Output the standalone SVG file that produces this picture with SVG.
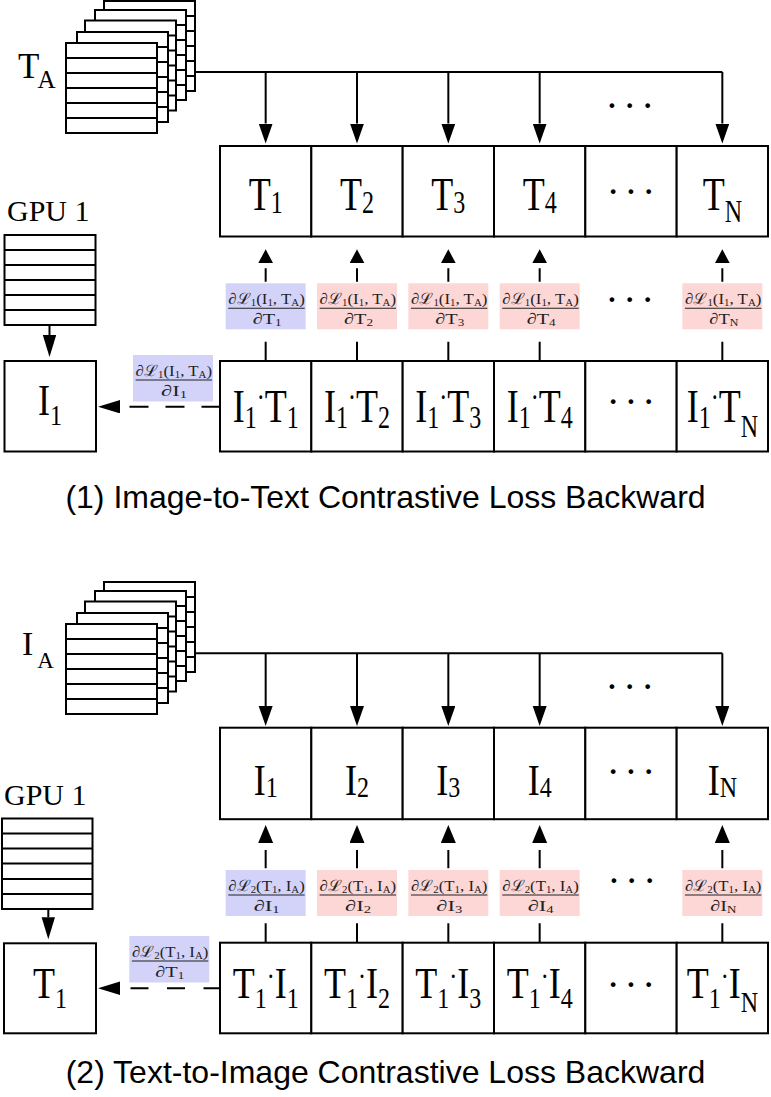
<svg xmlns="http://www.w3.org/2000/svg" width="771" height="1097" viewBox="0 0 771 1097">
<style>
.bg{fill:#fff}
.box{fill:#fff;stroke:#000;stroke-width:2}
.ln{fill:none;stroke:#000;stroke-width:2}
.m{font-family:"Liberation Serif","Times New Roman",serif;font-size:36px;fill:#000}
.s{font-size:24px}
.dots{font-family:"Liberation Serif","Times New Roman",serif;font-size:40px;letter-spacing:4.5px;text-anchor:middle;fill:#000}
.lbB{fill:#d3d3fa}
.lbP{fill:#fdd6d6}
.fr{font-family:"Liberation Serif","DejaVu Serif",serif;font-size:15.5px;fill:#222}
.fs{font-size:10px}
.bar{stroke:#222;stroke-width:1.1;fill:none}
.cap{font-family:"Liberation Sans",Arial,sans-serif;font-size:32px;fill:#000;text-anchor:middle}
</style>
<defs>
<marker id="m20" markerUnits="userSpaceOnUse" markerWidth="22" markerHeight="16" refX="0" refY="7" orient="auto"><path d="M0,0 L20,7 L0,14 z" fill="#000"/></marker>
<marker id="m22" markerUnits="userSpaceOnUse" markerWidth="24" markerHeight="16" refX="0" refY="6.7" orient="auto"><path d="M0,0 L22,6.7 L0,13.4 z" fill="#000"/></marker>
<marker id="m14" markerUnits="userSpaceOnUse" markerWidth="17" markerHeight="17" refX="0" refY="7.5" orient="auto"><path d="M0,0 L14,7.5 L0,15 z" fill="#000"/></marker>
<marker id="m18" markerUnits="userSpaceOnUse" markerWidth="20" markerHeight="17" refX="0" refY="7.5" orient="auto"><path d="M0,0 L18,7.5 L0,15 z" fill="#000"/></marker>
</defs>
<rect class="bg" x="0" y="0" width="771" height="1097"/>

<!-- ================= PART 1 ================= -->
<g id="stack-TA">
<rect class="box" x="104" y="1" width="91" height="90"/><path class="ln" d="M104 16h91M104 31h91M104 46h91M104 61h91M104 76h91"/>
<rect class="box" x="95" y="10" width="91" height="90"/><path class="ln" d="M95 25h91M95 40h91M95 55h91M95 70h91M95 85h91"/>
<rect class="box" x="85" y="20.5" width="91" height="90"/><path class="ln" d="M85 35.5h91M85 50.5h91M85 65.5h91M85 80.5h91M85 95.5h91"/>
<rect class="box" x="77" y="32" width="91" height="90"/><path class="ln" d="M77 47h91M77 62h91M77 77h91M77 92h91M77 107h91"/>
<rect class="box" x="66" y="43" width="91" height="90"/><path class="ln" d="M66 58h91M66 73h91M66 88h91M66 103h91M66 118h91"/>
</g>
<text id="label-TA" class="m" x="18" y="77.7" style="font-size:35px">T<tspan dx="-2" dy="10.6" style="font-size:25px">A</tspan></text>

<g id="gpu1-a">
<text class="m" x="7" y="221" style="font-size:30px">GPU 1</text>
<rect class="box" x="4.5" y="235" width="91" height="90"/>
<path class="ln" d="M4.5 250h91M4.5 265h91M4.5 280h91M4.5 295h91M4.5 310h91"/>
</g>

<g id="connectors-1">
<path class="ln" d="M195 72H722.33"/>
<path class="ln" marker-end="url(#m20)" d="M265.67 72V123.5"/>
<path class="ln" marker-end="url(#m20)" d="M357 72V123.5"/>
<path class="ln" marker-end="url(#m20)" d="M448.33 72V123.5"/>
<path class="ln" marker-end="url(#m20)" d="M539.67 72V123.5"/>
<path class="ln" marker-end="url(#m20)" d="M722.33 72V123.5"/>
<path class="ln" marker-end="url(#m22)" d="M49.5 325V335"/>
<path class="ln" marker-end="url(#m14)" stroke-dasharray="19.3 60 13.4 5" d="M265.67 361V263.3"/>
<path class="ln" marker-end="url(#m14)" stroke-dasharray="19.3 60 13.4 5" d="M357 361V263.3"/>
<path class="ln" marker-end="url(#m14)" stroke-dasharray="19.3 60 13.4 5" d="M448.33 361V263.3"/>
<path class="ln" marker-end="url(#m14)" stroke-dasharray="19.3 60 13.4 5" d="M539.67 361V263.3"/>
<path class="ln" marker-end="url(#m14)" stroke-dasharray="19.3 60 13.4 5" d="M722.33 361V263.3"/>
<path class="ln" marker-end="url(#m22)" stroke-dasharray="19 17" d="M220.5 406.7H120"/>
</g>
<text class="dots" x="632" y="119">···</text>

<g id="top-row-1">
<g id="t1"><rect class="box" x="220" y="146" width="91.33" height="90.5"/><text class="m" text-anchor="middle" transform="translate(265.67,210) scale(1,1.28)">T<tspan class="s" dy="2.4">1</tspan></text></g>
<g id="t2"><rect class="box" x="311.33" y="146" width="91.33" height="90.5"/><text class="m" text-anchor="middle" transform="translate(357,210) scale(1,1.28)">T<tspan class="s" dy="2.4">2</tspan></text></g>
<g id="t3"><rect class="box" x="402.67" y="146" width="91.33" height="90.5"/><text class="m" text-anchor="middle" transform="translate(448.33,210) scale(1,1.28)">T<tspan class="s" dy="2.4">3</tspan></text></g>
<g id="t4"><rect class="box" x="494" y="146" width="91.33" height="90.5"/><text class="m" text-anchor="middle" transform="translate(539.67,210) scale(1,1.28)">T<tspan class="s" dy="2.4">4</tspan></text></g>
<g id="t5"><rect class="box" x="585.33" y="146" width="91.33" height="90.5"/><text class="dots" x="633.2" y="205">···</text></g>
<g id="tN"><rect class="box" x="676.67" y="146" width="91.33" height="90.5"/><text class="m" text-anchor="middle" transform="translate(722.33,210) scale(1,1.28)">T<tspan class="s" dy="9.4">N</tspan></text></g>
</g>

<g id="labels-1">
<g id="g1-1" transform="translate(225.67,283.3)"><rect class="lbB" width="80" height="46"/><text class="fr" x="2.6" y="20.7" textLength="76.5" lengthAdjust="spacingAndGlyphs">∂ℒ<tspan class="fs" dy="2">1</tspan><tspan dy="-2">(I</tspan><tspan class="fs" dy="2">1</tspan><tspan dy="-2">, T</tspan><tspan class="fs" dy="2">A</tspan><tspan dy="-2">)</tspan></text><path class="bar" d="M2.6 25H79"/><text class="fr" x="27" y="41" textLength="29" lengthAdjust="spacingAndGlyphs">∂T<tspan class="fs" dy="2">1</tspan></text></g>
<g id="g1-2" transform="translate(317,283.3)"><rect class="lbP" width="80" height="46"/><text class="fr" x="2.6" y="20.7" textLength="76.5" lengthAdjust="spacingAndGlyphs">∂ℒ<tspan class="fs" dy="2">1</tspan><tspan dy="-2">(I</tspan><tspan class="fs" dy="2">1</tspan><tspan dy="-2">, T</tspan><tspan class="fs" dy="2">A</tspan><tspan dy="-2">)</tspan></text><path class="bar" d="M2.6 25H79"/><text class="fr" x="27" y="41" textLength="29" lengthAdjust="spacingAndGlyphs">∂T<tspan class="fs" dy="2">2</tspan></text></g>
<g id="g1-3" transform="translate(408.33,283.3)"><rect class="lbP" width="80" height="46"/><text class="fr" x="2.6" y="20.7" textLength="76.5" lengthAdjust="spacingAndGlyphs">∂ℒ<tspan class="fs" dy="2">1</tspan><tspan dy="-2">(I</tspan><tspan class="fs" dy="2">1</tspan><tspan dy="-2">, T</tspan><tspan class="fs" dy="2">A</tspan><tspan dy="-2">)</tspan></text><path class="bar" d="M2.6 25H79"/><text class="fr" x="27" y="41" textLength="29" lengthAdjust="spacingAndGlyphs">∂T<tspan class="fs" dy="2">3</tspan></text></g>
<g id="g1-4" transform="translate(499.67,283.3)"><rect class="lbP" width="80" height="46"/><text class="fr" x="2.6" y="20.7" textLength="76.5" lengthAdjust="spacingAndGlyphs">∂ℒ<tspan class="fs" dy="2">1</tspan><tspan dy="-2">(I</tspan><tspan class="fs" dy="2">1</tspan><tspan dy="-2">, T</tspan><tspan class="fs" dy="2">A</tspan><tspan dy="-2">)</tspan></text><path class="bar" d="M2.6 25H79"/><text class="fr" x="27" y="41" textLength="29" lengthAdjust="spacingAndGlyphs">∂T<tspan class="fs" dy="2">4</tspan></text></g>
<text class="dots" x="632" y="312.7">···</text>
<g id="g1-N" transform="translate(682.33,283.3)"><rect class="lbP" width="80" height="46"/><text class="fr" x="2.6" y="20.7" textLength="76.5" lengthAdjust="spacingAndGlyphs">∂ℒ<tspan class="fs" dy="2">1</tspan><tspan dy="-2">(I</tspan><tspan class="fs" dy="2">1</tspan><tspan dy="-2">, T</tspan><tspan class="fs" dy="2">A</tspan><tspan dy="-2">)</tspan></text><path class="bar" d="M2.6 25H79"/><text class="fr" x="27" y="41" textLength="29" lengthAdjust="spacingAndGlyphs">∂T<tspan class="fs" dy="2">N</tspan></text></g>
<g id="g1-I" transform="translate(133,355)"><rect class="lbB" width="80" height="46.5"/><text class="fr" x="2.6" y="20.7" textLength="76.5" lengthAdjust="spacingAndGlyphs">∂ℒ<tspan class="fs" dy="2">1</tspan><tspan dy="-2">(I</tspan><tspan class="fs" dy="2">1</tspan><tspan dy="-2">, T</tspan><tspan class="fs" dy="2">A</tspan><tspan dy="-2">)</tspan></text><path class="bar" d="M2.6 25H79"/><text class="fr" x="28" y="41" textLength="26" lengthAdjust="spacingAndGlyphs">∂I<tspan class="fs" dy="2">1</tspan></text></g>
</g>

<g id="node-I1"><rect class="box" x="4.5" y="361" width="91.5" height="90.5"/><text class="m" text-anchor="middle" transform="translate(50,415) scale(1,1.25)">I<tspan class="s" dy="8">1</tspan></text></g>

<g id="bottom-row-1">
<g id="p1"><rect class="box" x="220" y="361" width="91.33" height="90.5"/><text class="m" text-anchor="middle" transform="translate(265.67,421.7) scale(1,1.28)">I<tspan class="s" dy="5.2">1</tspan><tspan class="s" dy="-16">·</tspan><tspan dy="10.8">T</tspan><tspan class="s" dy="5.2">1</tspan></text></g>
<g id="p2"><rect class="box" x="311.33" y="361" width="91.33" height="90.5"/><text class="m" text-anchor="middle" transform="translate(357,421.7) scale(1,1.28)">I<tspan class="s" dy="5.2">1</tspan><tspan class="s" dy="-16">·</tspan><tspan dy="10.8">T</tspan><tspan class="s" dy="5.2">2</tspan></text></g>
<g id="p3"><rect class="box" x="402.67" y="361" width="91.33" height="90.5"/><text class="m" text-anchor="middle" transform="translate(448.33,421.7) scale(1,1.28)">I<tspan class="s" dy="5.2">1</tspan><tspan class="s" dy="-16">·</tspan><tspan dy="10.8">T</tspan><tspan class="s" dy="5.2">3</tspan></text></g>
<g id="p4"><rect class="box" x="494" y="361" width="91.33" height="90.5"/><text class="m" text-anchor="middle" transform="translate(539.67,421.7) scale(1,1.28)">I<tspan class="s" dy="5.2">1</tspan><tspan class="s" dy="-16">·</tspan><tspan dy="10.8">T</tspan><tspan class="s" dy="5.2">4</tspan></text></g>
<g id="p5"><rect class="box" x="585.33" y="361" width="91.33" height="90.5"/><text class="dots" x="633.2" y="415">···</text></g>
<g id="pN"><rect class="box" x="676.67" y="361" width="91.33" height="90.5"/><text class="m" text-anchor="middle" transform="translate(722.33,421.7) scale(1,1.28)">I<tspan class="s" dy="5.2">1</tspan><tspan class="s" dy="-16">·</tspan><tspan dy="10.8">T</tspan><tspan class="s" dy="11.7">N</tspan></text></g>
</g>

<text class="cap" x="385.5" y="507.7">(1) Image-to-Text Contrastive Loss Backward</text>

<!-- ================= PART 2 ================= -->
<g id="stack-IA">
<rect class="box" x="104" y="582" width="91" height="90"/><path class="ln" d="M104 597h91M104 612h91M104 627h91M104 642h91M104 657h91"/>
<rect class="box" x="95" y="591" width="91" height="90"/><path class="ln" d="M95 606h91M95 621h91M95 636h91M95 651h91M95 666h91"/>
<rect class="box" x="85" y="601.5" width="91" height="90"/><path class="ln" d="M85 616.5h91M85 631.5h91M85 646.5h91M85 661.5h91M85 676.5h91"/>
<rect class="box" x="77" y="613" width="91" height="90"/><path class="ln" d="M77 628h91M77 643h91M77 658h91M77 673h91M77 688h91"/>
<rect class="box" x="66" y="624" width="91" height="90"/><path class="ln" d="M66 639h91M66 654h91M66 669h91M66 684h91M66 699h91"/>
</g>
<text id="label-IA" class="m" x="22" y="655" style="font-size:34px">I<tspan dx="4" dy="13" style="font-size:23px">A</tspan></text>

<g id="gpu1-b">
<text class="m" x="4" y="805" style="font-size:30px">GPU 1</text>
<rect class="box" x="2" y="818.5" width="90.5" height="90.5"/>
<path class="ln" d="M2 833.5h90.5M2 848.5h90.5M2 863.5h90.5M2 879h90.5M2 894h90.5"/>
</g>

<g id="connectors-2">
<path class="ln" d="M195 653.3H722.33"/>
<path class="ln" marker-end="url(#m20)" d="M265.67 653.3V706"/>
<path class="ln" marker-end="url(#m20)" d="M357 653.3V706"/>
<path class="ln" marker-end="url(#m20)" d="M448.33 653.3V706"/>
<path class="ln" marker-end="url(#m20)" d="M539.67 653.3V706"/>
<path class="ln" marker-end="url(#m20)" d="M722.33 653.3V706"/>
<path class="ln" marker-end="url(#m22)" d="M48.3 909V917.3"/>
<path class="ln" marker-end="url(#m18)" stroke-dasharray="19.4 55 18.3 7" d="M265.67 942.7V843"/>
<path class="ln" marker-end="url(#m18)" stroke-dasharray="19.4 55 18.3 7" d="M357 942.7V843"/>
<path class="ln" marker-end="url(#m18)" stroke-dasharray="19.4 55 18.3 7" d="M448.33 942.7V843"/>
<path class="ln" marker-end="url(#m18)" stroke-dasharray="19.4 55 18.3 7" d="M539.67 942.7V843"/>
<path class="ln" marker-end="url(#m18)" stroke-dasharray="19.4 55 18.3 7" d="M722.33 942.7V843"/>
<path class="ln" marker-end="url(#m22)" stroke-dasharray="18 18.5" d="M221.5 988.3H120"/>
</g>
<text class="dots" x="632" y="700">···</text>

<g id="top-row-2">
<g id="i1"><rect class="box" x="220" y="727.7" width="91.33" height="91.5"/><text class="m" text-anchor="middle" transform="translate(265.67,795) scale(1,1.25)">I<tspan class="s" dy="1.6">1</tspan></text></g>
<g id="i2"><rect class="box" x="311.33" y="727.7" width="91.33" height="91.5"/><text class="m" text-anchor="middle" transform="translate(357,795) scale(1,1.25)">I<tspan class="s" dy="1.6">2</tspan></text></g>
<g id="i3"><rect class="box" x="402.67" y="727.7" width="91.33" height="91.5"/><text class="m" text-anchor="middle" transform="translate(448.33,795) scale(1,1.25)">I<tspan class="s" dy="1.6">3</tspan></text></g>
<g id="i4"><rect class="box" x="494" y="727.7" width="91.33" height="91.5"/><text class="m" text-anchor="middle" transform="translate(539.67,795) scale(1,1.25)">I<tspan class="s" dy="1.6">4</tspan></text></g>
<g id="i5"><rect class="box" x="585.33" y="727.7" width="91.33" height="91.5"/><text class="dots" x="633.2" y="785">···</text></g>
<g id="iN"><rect class="box" x="676.67" y="727.7" width="91.33" height="91.5"/><text class="m" text-anchor="middle" transform="translate(722.33,795) scale(1,1.25)">I<tspan class="s" dy="1.6">N</tspan></text></g>
</g>

<g id="labels-2">
<g id="g2-1" transform="translate(225.67,870)"><rect class="lbB" width="80" height="46"/><text class="fr" x="2.6" y="20.7" textLength="76.5" lengthAdjust="spacingAndGlyphs">∂ℒ<tspan class="fs" dy="2">2</tspan><tspan dy="-2">(T</tspan><tspan class="fs" dy="2">1</tspan><tspan dy="-2">, I</tspan><tspan class="fs" dy="2">A</tspan><tspan dy="-2">)</tspan></text><path class="bar" d="M2.6 25H79"/><text class="fr" x="28" y="41" textLength="26" lengthAdjust="spacingAndGlyphs">∂I<tspan class="fs" dy="2">1</tspan></text></g>
<g id="g2-2" transform="translate(317,870)"><rect class="lbP" width="80" height="46"/><text class="fr" x="2.6" y="20.7" textLength="76.5" lengthAdjust="spacingAndGlyphs">∂ℒ<tspan class="fs" dy="2">2</tspan><tspan dy="-2">(T</tspan><tspan class="fs" dy="2">1</tspan><tspan dy="-2">, I</tspan><tspan class="fs" dy="2">A</tspan><tspan dy="-2">)</tspan></text><path class="bar" d="M2.6 25H79"/><text class="fr" x="28" y="41" textLength="26" lengthAdjust="spacingAndGlyphs">∂I<tspan class="fs" dy="2">2</tspan></text></g>
<g id="g2-3" transform="translate(408.33,870)"><rect class="lbP" width="80" height="46"/><text class="fr" x="2.6" y="20.7" textLength="76.5" lengthAdjust="spacingAndGlyphs">∂ℒ<tspan class="fs" dy="2">2</tspan><tspan dy="-2">(T</tspan><tspan class="fs" dy="2">1</tspan><tspan dy="-2">, I</tspan><tspan class="fs" dy="2">A</tspan><tspan dy="-2">)</tspan></text><path class="bar" d="M2.6 25H79"/><text class="fr" x="28" y="41" textLength="26" lengthAdjust="spacingAndGlyphs">∂I<tspan class="fs" dy="2">3</tspan></text></g>
<g id="g2-4" transform="translate(499.67,870)"><rect class="lbP" width="80" height="46"/><text class="fr" x="2.6" y="20.7" textLength="76.5" lengthAdjust="spacingAndGlyphs">∂ℒ<tspan class="fs" dy="2">2</tspan><tspan dy="-2">(T</tspan><tspan class="fs" dy="2">1</tspan><tspan dy="-2">, I</tspan><tspan class="fs" dy="2">A</tspan><tspan dy="-2">)</tspan></text><path class="bar" d="M2.6 25H79"/><text class="fr" x="28" y="41" textLength="26" lengthAdjust="spacingAndGlyphs">∂I<tspan class="fs" dy="2">4</tspan></text></g>
<text class="dots" x="634" y="894">···</text>
<g id="g2-N" transform="translate(682.33,870)"><rect class="lbP" width="80" height="46"/><text class="fr" x="2.6" y="20.7" textLength="76.5" lengthAdjust="spacingAndGlyphs">∂ℒ<tspan class="fs" dy="2">2</tspan><tspan dy="-2">(T</tspan><tspan class="fs" dy="2">1</tspan><tspan dy="-2">, I</tspan><tspan class="fs" dy="2">A</tspan><tspan dy="-2">)</tspan></text><path class="bar" d="M2.6 25H79"/><text class="fr" x="28" y="41" textLength="26" lengthAdjust="spacingAndGlyphs">∂I<tspan class="fs" dy="2">N</tspan></text></g>
<g id="g2-T" transform="translate(129.3,936)"><rect class="lbB" width="80" height="46.5"/><text class="fr" x="2.6" y="20.7" textLength="76.5" lengthAdjust="spacingAndGlyphs">∂ℒ<tspan class="fs" dy="2">2</tspan><tspan dy="-2">(T</tspan><tspan class="fs" dy="2">1</tspan><tspan dy="-2">, I</tspan><tspan class="fs" dy="2">A</tspan><tspan dy="-2">)</tspan></text><path class="bar" d="M2.6 25H79"/><text class="fr" x="26" y="41" textLength="29" lengthAdjust="spacingAndGlyphs">∂T<tspan class="fs" dy="2">1</tspan></text></g>
</g>

<g id="node-T1"><rect class="box" x="4" y="943.3" width="92" height="90"/><text class="m" text-anchor="middle" transform="translate(50,998.3) scale(1,1.25)">T<tspan class="s" dy="8">1</tspan></text></g>

<g id="bottom-row-2">
<g id="q1"><rect class="box" x="220" y="942.7" width="91.33" height="90.6"/><text class="m" text-anchor="middle" transform="translate(265.67,998.3) scale(1,1.25)">T<tspan class="s" dy="8">1</tspan><tspan class="s" dy="-17.5">·</tspan><tspan dy="9.5">I</tspan><tspan class="s" dy="8">1</tspan></text></g>
<g id="q2"><rect class="box" x="311.33" y="942.7" width="91.33" height="90.6"/><text class="m" text-anchor="middle" transform="translate(357,998.3) scale(1,1.25)">T<tspan class="s" dy="8">1</tspan><tspan class="s" dy="-17.5">·</tspan><tspan dy="9.5">I</tspan><tspan class="s" dy="8">2</tspan></text></g>
<g id="q3"><rect class="box" x="402.67" y="942.7" width="91.33" height="90.6"/><text class="m" text-anchor="middle" transform="translate(448.33,998.3) scale(1,1.25)">T<tspan class="s" dy="8">1</tspan><tspan class="s" dy="-17.5">·</tspan><tspan dy="9.5">I</tspan><tspan class="s" dy="8">3</tspan></text></g>
<g id="q4"><rect class="box" x="494" y="942.7" width="91.33" height="90.6"/><text class="m" text-anchor="middle" transform="translate(539.67,998.3) scale(1,1.25)">T<tspan class="s" dy="8">1</tspan><tspan class="s" dy="-17.5">·</tspan><tspan dy="9.5">I</tspan><tspan class="s" dy="8">4</tspan></text></g>
<g id="q5"><rect class="box" x="585.33" y="942.7" width="91.33" height="90.6"/><text class="dots" x="633.2" y="998">···</text></g>
<g id="qN"><rect class="box" x="676.67" y="942.7" width="91.33" height="90.6"/><text class="m" text-anchor="middle" transform="translate(722.33,998.3) scale(1,1.25)">T<tspan class="s" dy="8">1</tspan><tspan class="s" dy="-17.5">·</tspan><tspan dy="9.5">I</tspan><tspan class="s" dy="10.7">N</tspan></text></g>
</g>

<text class="cap" x="385.5" y="1083">(2) Text-to-Image Contrastive Loss Backward</text>
</svg>
